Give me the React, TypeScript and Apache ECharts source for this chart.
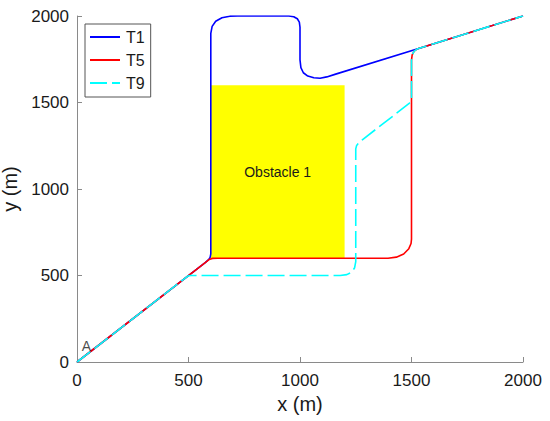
import React, { useEffect, useRef } from "react";
import * as echarts from "echarts";

const xTicks = [0, 500, 1000, 1500, 2000];
const yTicks = [0, 500, 1000, 1500, 2000];

const obstacleMin = [600, 600];
const obstacleMax = [1200, 1600];
const obstacleName = "Obstacle 1";

const t1Path = [
  [0, 0], [575, 575], [590, 592], [597, 605], [600, 625],
  [600, 1900], [606, 1940], [622, 1970], [650, 1990], [685, 1999], [720, 2000],
  [950, 2000], [972, 1996], [988, 1984], [997, 1965], [1000, 1935],
  [1000, 1746], [1004, 1702], [1015, 1672], [1035, 1653], [1062, 1643], [1090, 1640],
  [1120, 1648], [1160, 1664], [1550, 1820], [2000, 2000],
];

const t5Path = [
  [0, 0], [575, 575], [592, 592], [608, 599], [630, 600],
  [1395, 600], [1432, 606], [1465, 624], [1488, 655], [1498, 685], [1500, 710],
  [1500, 1745], [1503, 1775], [1512, 1797], [1528, 1811], [1550, 1820], [2000, 2000],
];

const t9Path = [
  [0, 0], [488, 488], [498, 497], [510, 500], [525, 500],
  [1180, 500], [1210, 505], [1232, 520], [1245, 545], [1250, 580],
  [1250, 1232], [1254, 1252], [1264, 1267], [1278, 1283],
  [1488, 1493], [1496, 1503], [1500, 1520],
  [1500, 1745], [1503, 1775], [1512, 1797], [1528, 1811], [1550, 1820], [2000, 2000],
];

const pointLabels = [
  { name: "A", value: [42, 92] },
  { name: "B", value: [2018, 1942] },
];

const FONT = "'Liberation Sans', Arial, Helvetica, sans-serif";

export default function App() {
  const ref = useRef<HTMLDivElement>(null);
  useEffect(() => {
    document.body.style.margin = "0";
    const chart = echarts.init(ref.current!, null, { renderer: "svg" });
    const axisCommon = {
      type: "value" as const,
      min: 0,
      max: 2000,
      interval: 500,
      splitLine: { show: false },
      axisLine: { show: true, lineStyle: { color: "#8a8a8a", width: 1 } },
      axisTick: { show: true, inside: true, length: 5, lineStyle: { color: "#8a8a8a" } },
      nameLocation: "middle" as const,
      nameTextStyle: { fontSize: 20, color: "#1a1a1a", fontFamily: FONT },
    };
    chart.setOption({
      animation: false,
      textStyle: { fontFamily: FONT },
      grid: {
        left: 77, right: 27, top: 16, bottom: 59,
        containLabel: false, outerBoundsMode: "none",
      },
      legend: {
        data: ["T1", "T5", "T9"],
        orient: "vertical",
        left: 85,
        top: 24,
        padding: [5, 6, 6, 4],
        itemWidth: 30,
        itemHeight: 16,
        itemGap: 7,
        borderColor: "#555",
        borderWidth: 1,
        backgroundColor: "#fff",
        itemStyle: { color: "rgba(0,0,0,0)", borderColor: "rgba(0,0,0,0)", borderWidth: 0 },
        textStyle: { fontSize: 16, color: "#1a1a1a", fontFamily: FONT, padding: [0, 0, 0, 1] },
      },
      xAxis: {
        ...axisCommon,
        name: "x (m)",
        nameGap: 30,
        axisLabel: {
          fontSize: 17, color: "#1a1a1a", fontFamily: FONT, margin: 10,
          formatter: (v: number) => (xTicks.includes(v) ? String(v) : ""),
        },
      },
      yAxis: {
        ...axisCommon,
        name: "y (m)",
        nameGap: 52,
        axisLabel: {
          fontSize: 17, color: "#1a1a1a", fontFamily: FONT, margin: 8,
          formatter: (v: number) => (yTicks.includes(v) ? String(v) : ""),
        },
      },
      series: [
        {
          name: "obstacle",
          type: "line",
          data: [],
          z: 1,
          markArea: {
            silent: true,
            itemStyle: { color: "#ffff00", opacity: 1 },
            label: {
              show: true,
              position: "inside",
              color: "#1a1a1a",
              fontSize: 14,
              fontFamily: FONT,
            },
            data: [[
              { name: obstacleName, coord: obstacleMin },
              { coord: obstacleMax },
            ]],
          },
        },
        {
          name: "T1",
          type: "line",
          data: t1Path,
          symbol: "none",
          z: 2,
          lineStyle: { color: "#0000ff", width: 1.6 },
          itemStyle: { color: "#0000ff" },
        },
        {
          name: "T5",
          type: "line",
          data: t5Path,
          symbol: "none",
          z: 3,
          lineStyle: { color: "#ff0000", width: 1.6 },
          itemStyle: { color: "#ff0000" },
        },
        {
          name: "T9",
          type: "line",
          data: t9Path,
          symbol: "none",
          z: 4,
          lineStyle: { color: "#00ffff", width: 1.6, type: [17, 5] },
          itemStyle: { color: "#00ffff" },
        },
        {
          name: "labels",
          type: "scatter",
          data: pointLabels,
          symbolSize: 1,
          z: 5,
          itemStyle: { color: "rgba(0,0,0,0)" },
          label: {
            show: true,
            position: "inside",
            formatter: "{b}",
            color: "#1a1a1a",
            fontSize: 14,
            fontFamily: FONT,
          },
        },
      ],
    });
    return () => chart.dispose();
  }, []);
  return <div ref={ref} style={{ width: 550, height: 421 }} />;
}
